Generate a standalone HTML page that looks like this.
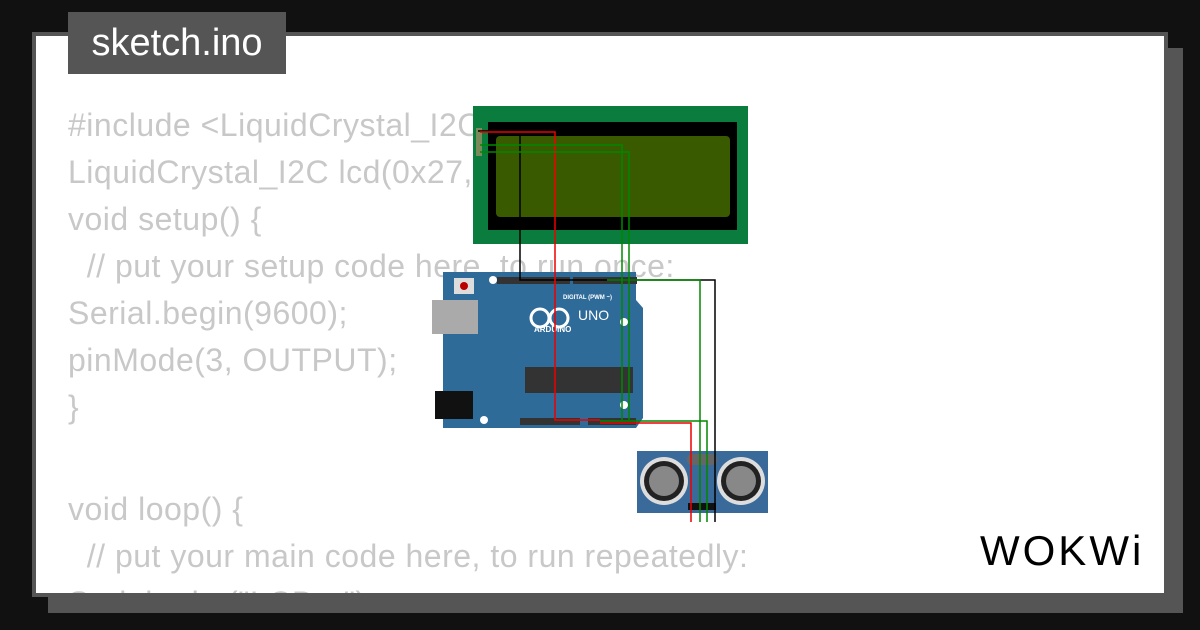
<!DOCTYPE html>
<html><head><meta charset="utf-8"><style>
html,body{margin:0;padding:0;background:#111;width:1200px;height:630px;overflow:hidden;position:relative;font-family:"Liberation Sans",sans-serif}
.sh{position:absolute;left:48px;top:48px;width:1135px;height:565px;background:#555}
.pn{position:absolute;left:32px;top:32px;width:1128px;height:557px;background:#fff;border:4px solid #555}
.tab{position:absolute;left:68px;top:12px;width:218px;height:62px;background:#555;color:#fff;font-size:38px;line-height:62px;text-align:center}
.code{position:absolute;left:68px;top:102px;color:#c8c8c8;font-size:32px;letter-spacing:0.5px;line-height:47px;white-space:pre;width:1090px;height:491px;overflow:hidden}
svg{position:absolute;left:0;top:0}
.wk{position:absolute;left:980px;top:526px;font-size:42px;letter-spacing:3px;color:#000;font-family:"Liberation Sans",sans-serif;line-height:50px}
</style></head><body>
<div class="sh"></div><div class="pn"></div>
<div class="code">#include &lt;LiquidCrystal_I2C.h&gt;
LiquidCrystal_I2C lcd(0x27, 16, 2);
void setup() {
  // put your setup code here, to run once:
Serial.begin(9600);
pinMode(3, OUTPUT);
}
<div style="height:55px"></div>void loop() {
  // put your main code here, to run repeatedly:
Serial.print("LCD...");</div>
<div class="tab">sketch.ino</div>
<svg width="1200" height="630">
<rect x="473" y="106" width="275" height="138" fill="#0a7d3e"/>
<rect x="488" y="122" width="249" height="108" fill="#000"/>
<rect x="496" y="136" width="234" height="81" rx="4" fill="#3a5a00"/>
<rect x="476" y="128" width="6" height="28" fill="#7a8a5a"/>
<path d="M443 272 H636 V300 L643 308 V418 L636 428 H443 Z" fill="#2f6b99"/>
<rect x="432" y="300" width="46" height="34" fill="#aaa"/>
<rect x="435" y="391" width="38" height="28" fill="#111"/>
<rect x="454" y="278" width="20" height="16" fill="#ddd"/>
<circle cx="464" cy="286" r="4" fill="#b00"/>
<rect x="497" y="277" width="73" height="7" fill="#333"/>
<rect x="573" y="277" width="64" height="7" fill="#333"/>
<rect x="520" y="418" width="60" height="7" fill="#333"/>
<rect x="588" y="418" width="48" height="7" fill="#333"/>
<rect x="525" y="367" width="108" height="26" fill="#333"/>
<circle cx="540" cy="318" r="9" fill="none" stroke="#fff" stroke-width="3"/>
<circle cx="559" cy="318" r="9" fill="none" stroke="#fff" stroke-width="3"/>
<text x="534" y="332" font-size="8" fill="#fff" font-weight="bold">ARDUINO</text>
<text x="578" y="320" font-size="14" fill="#fff">UNO</text>
<text x="563" y="299" font-size="6" fill="#fff" font-weight="bold">DIGITAL (PWM ~)</text>
<circle cx="493" cy="280" r="4" fill="#fff"/><circle cx="624" cy="322" r="4" fill="#fff"/>
<circle cx="624" cy="405" r="4" fill="#fff"/><circle cx="484" cy="420" r="4" fill="#fff"/>
<rect x="637" y="451" width="131" height="62" fill="#3a6a9a"/>
<circle cx="664" cy="481" r="24" fill="#ddd"/><circle cx="664" cy="481" r="20" fill="#222"/><circle cx="664" cy="481" r="15" fill="#888"/>
<circle cx="741" cy="481" r="24" fill="#ddd"/><circle cx="741" cy="481" r="20" fill="#222"/><circle cx="741" cy="481" r="15" fill="#888"/>
<rect x="687" y="454" width="30" height="11" rx="5" fill="#666"/>
<rect x="688" y="503" width="28" height="7" fill="#111"/>
<g fill="none" stroke-width="1.5">
<path d="M478 131 H520 V280 H715 V522" stroke="#000"/>
<path d="M480 132 H555 V420 H600" stroke="#e00"/>
<path d="M480 145 H622 V420" stroke="#080"/>
<path d="M480 152 H629 V420" stroke="#080"/>
<path d="M607 280 H700 V522" stroke="#080"/>
<path d="M600 421 H707 V522" stroke="#080"/>
<path d="M600 423 H691 V522" stroke="#e00"/>
</g>
</svg>
<div class="wk">WOKWi</div>
</body></html>
